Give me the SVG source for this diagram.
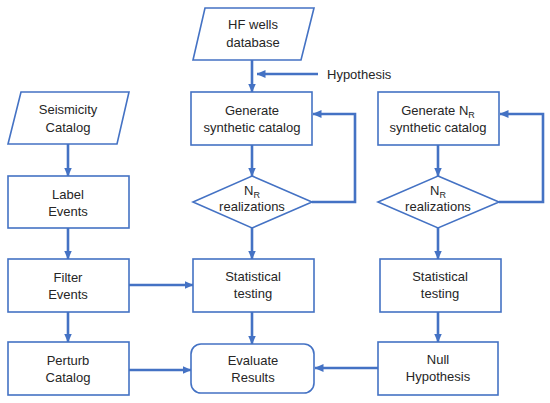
<svg xmlns="http://www.w3.org/2000/svg" width="550" height="403" viewBox="0 0 550 403">
<defs>
<marker id="ah" markerWidth="9" markerHeight="9" viewBox="0 0 9 9" refX="8.5" refY="4.5" orient="auto" markerUnits="userSpaceOnUse">
<path d="M0,0.5 L9,4.5 L0,8.5 Z" fill="#4472C4"/>
</marker>
</defs>
<style>
.box{fill:#fff;stroke:#4472C4;stroke-width:1.6}
.t{font-family:"Liberation Sans",Arial,sans-serif;font-size:13px;fill:#262626;text-anchor:middle}
.c{fill:none;stroke:#4472C4;stroke-width:2.6}
.sub{font-size:9px}
</style>
<rect width="550" height="403" fill="#fff"/>
<g id="connectors">
<line class="c" x1="68" y1="144" x2="68" y2="176" marker-end="url(#ah)"/>
<line class="c" x1="68" y1="228" x2="68" y2="259" marker-end="url(#ah)"/>
<line class="c" x1="68" y1="312" x2="68" y2="342" marker-end="url(#ah)"/>
<line class="c" x1="129" y1="285" x2="193" y2="285" marker-end="url(#ah)"/>
<line class="c" x1="129" y1="370" x2="191" y2="370" marker-end="url(#ah)"/>
<line class="c" x1="252" y1="60" x2="252" y2="92" marker-end="url(#ah)"/>
<line class="c" x1="318" y1="74" x2="257" y2="74" marker-end="url(#ah)"/>
<line class="c" x1="252" y1="145" x2="252" y2="176" marker-end="url(#ah)"/>
<polyline class="c" points="312,202 355,202 355,114 313,114" marker-end="url(#ah)"/>
<line class="c" x1="252" y1="228" x2="252" y2="259" marker-end="url(#ah)"/>
<line class="c" x1="252" y1="312" x2="252" y2="344" marker-end="url(#ah)"/>
<line class="c" x1="438" y1="145" x2="438" y2="176" marker-end="url(#ah)"/>
<polyline class="c" points="499,202 543,202 543,114 500,114" marker-end="url(#ah)"/>
<line class="c" x1="438" y1="228" x2="438" y2="259" marker-end="url(#ah)"/>
<line class="c" x1="438" y1="312" x2="438" y2="342" marker-end="url(#ah)"/>
<line class="c" x1="378" y1="368" x2="315" y2="368" marker-end="url(#ah)"/>
</g>
<g id="seismicity">
<polygon class="box" points="21,92 129,92 117,144 8,144"/>
<text class="t" x="68" y="114">Seismicity</text>
<text class="t" x="68" y="132">Catalog</text>
</g>
<g id="label">
<rect class="box" x="8" y="176" width="121" height="52"/>
<text class="t" x="68" y="199">Label</text>
<text class="t" x="68" y="216">Events</text>
</g>
<g id="filter">
<rect class="box" x="8" y="259" width="121" height="53"/>
<text class="t" x="68" y="282">Filter</text>
<text class="t" x="68" y="299">Events</text>
</g>
<g id="perturb">
<rect class="box" x="8" y="342" width="121" height="53"/>
<text class="t" x="68" y="365">Perturb</text>
<text class="t" x="68" y="382">Catalog</text>
</g>
<g id="hfwells">
<polygon class="box" points="205,8 314,8 301,60 193,60"/>
<text class="t" x="253" y="29">HF wells</text>
<text class="t" x="253" y="47">database</text>
</g>
<g id="hypothesis">
<text class="t" x="327" y="79" style="text-anchor:start">Hypothesis</text>
</g>
<g id="gen1">
<rect class="box" x="191" y="92" width="121" height="53"/>
<text class="t" x="252" y="115">Generate</text>
<text class="t" x="252" y="132">synthetic catalog</text>
</g>
<g id="diamond1">
<polygon class="box" points="252,176 312,202 252,228 193,202"/>
<text class="t" x="252" y="195">N<tspan class="sub" dy="3">R</tspan></text>
<text class="t" x="252" y="211">realizations</text>
</g>
<g id="stat1">
<rect class="box" x="193" y="259" width="121" height="53"/>
<text class="t" x="253" y="281">Statistical</text>
<text class="t" x="253" y="298">testing</text>
</g>
<g id="evaluate">
<rect class="box" x="191" y="344" width="123" height="49" rx="10" ry="10"/>
<text class="t" x="253" y="365">Evaluate</text>
<text class="t" x="253" y="382">Results</text>
</g>
<g id="gen2">
<rect class="box" x="378" y="92" width="121" height="53"/>
<text class="t" x="438" y="115">Generate N<tspan class="sub" dy="3">R</tspan></text>
<text class="t" x="438" y="132">synthetic catalog</text>
</g>
<g id="diamond2">
<polygon class="box" points="438,176 499,202 438,228 378,202"/>
<text class="t" x="438" y="195">N<tspan class="sub" dy="3">R</tspan></text>
<text class="t" x="438" y="211">realizations</text>
</g>
<g id="stat2">
<rect class="box" x="380" y="259" width="121" height="53"/>
<text class="t" x="440" y="281">Statistical</text>
<text class="t" x="440" y="298">testing</text>
</g>
<g id="null">
<rect class="box" x="378" y="342" width="120" height="53"/>
<text class="t" x="438" y="364">Null</text>
<text class="t" x="438" y="381">Hypothesis</text>
</g>
</svg>
